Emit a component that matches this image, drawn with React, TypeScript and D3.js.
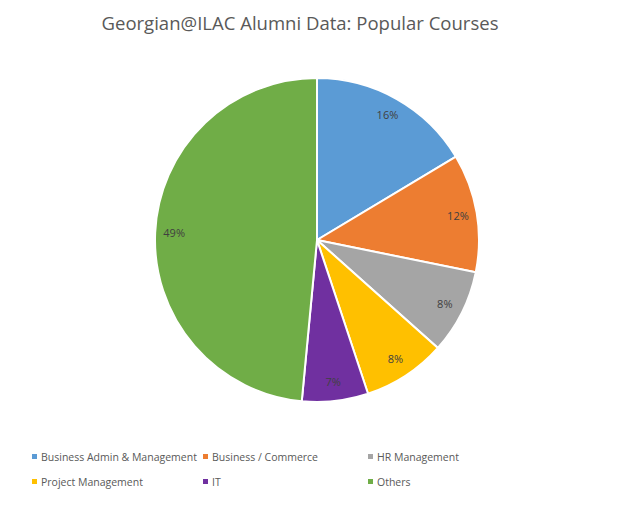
import React from "react";
import * as d3 from "d3";

const categories = ["Business Admin & Management", "Business / Commerce", "HR Management", "Project Management", "IT", "Others"];
const values = [16.4, 11.8, 8.4, 8.3, 6.6, 48.5];
const colors = ["#5B9BD5", "#ED7D31", "#A5A5A5", "#FFC000", "#7030A0", "#70AD47"];
const title = "Georgian@ILAC Alumni Data: Popular Courses";

const W = 634, H = 510;
const cx = 317, cy = 240, R = 162;

export default function App() {
  const total = d3.sum(values);
  const pie = d3.pie<number>().sort(null).value((d) => d);
  const arcs = pie(values);
  const arc = d3.arc<d3.PieArcDatum<number>>().innerRadius(0).outerRadius(R);
  const labelArc = d3.arc<d3.PieArcDatum<number>>().innerRadius(143).outerRadius(143);

  const legendCols = [32, 203, 368];
  const legendRows = [457, 482];

  return (
    <svg width={W} height={H} style={{ position: "absolute", left: 0, top: 0, background: "#fff" }}
      fontFamily="'Open Sans', 'Noto Sans', sans-serif">
      <rect x={0} y={0} width={W} height={H} fill="#fff" />
      <text x={300} y={30} textAnchor="middle" fontSize={18} fill="#595959" textLength={397} lengthAdjust="spacingAndGlyphs">{title}</text>
      <g transform={`translate(${cx},${cy})`}>
        {arcs.map((a, i) => (
          <path key={i} d={arc(a) || ""} fill={colors[i]} stroke="#fff" strokeWidth={2} />
        ))}
        {arcs.map((a, i) => {
          const [x, y] = labelArc.centroid(a);
          return (
            <text key={"l" + i} x={x} y={y} dy="0.35em" textAnchor="middle" fontSize={11} fill="#404040">
              {Math.round((values[i] / total) * 100)}%
            </text>
          );
        })}
      </g>
      {categories.map((c, i) => {
        const x = legendCols[i % 3];
        const y = legendRows[Math.floor(i / 3)];
        return (
          <g key={"g" + i}>
            <rect x={x} y={y - 3} width={5} height={5} fill={colors[i]} />
            <text x={x + 9} y={y} dy="0.35em" fontSize={10.5} fill="#595959">{c}</text>
          </g>
        );
      })}
    </svg>
  );
}
